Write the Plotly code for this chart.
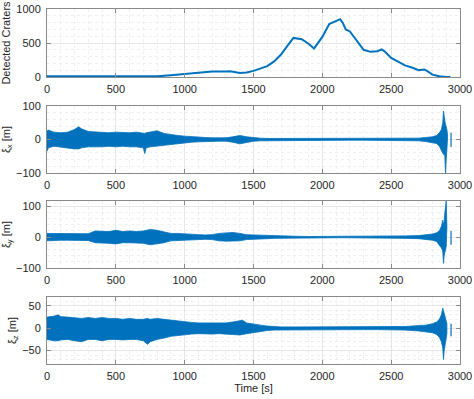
import plotly.graph_objects as go

# ---- Data ----
crater_t = [0, 100, 200, 300, 400, 500, 600, 700, 800, 900, 1000, 1100, 1200, 1300, 1330, 1400, 1450, 1500, 1550, 1600,
            1650, 1700, 1750, 1790, 1850, 1900, 1940, 2000, 2050, 2100, 2130, 2150, 2170, 2200, 2250, 2300, 2350, 2400,
            2430, 2450, 2500, 2550, 2600, 2650, 2700, 2740, 2760, 2800, 2850, 2900, 2930]
crater_n = [10, 10, 10, 8, 8, 8, 5, 8, 10, 25, 45, 65, 80, 80, 85, 60, 65, 90, 120, 160,
            230, 330, 470, 575, 555, 490, 420, 590, 780, 820, 850, 790, 700, 670, 540, 400, 370, 380,
            405, 380, 280, 220, 170, 140, 100, 110, 90, 35, 10, 0, 0]

ex_t = [0, 10, 50, 100, 150, 200, 230, 250, 300, 350, 400, 450, 500, 550, 600, 650, 700, 710, 720, 750, 800, 850, 900,
        950, 1000, 1050, 1100, 1150, 1200, 1250, 1300, 1350, 1400, 1450, 1500, 1550, 1600, 1700, 1800, 1900, 2000, 2100,
        2200, 2300, 2400, 2500, 2600, 2700, 2750, 2800, 2830, 2850, 2865, 2875, 2880, 2885, 2890, 2895, 2900, 2905, 2910]
ex_hi = [25, 28, 22, 20, 22, 30, 38, 32, 24, 22, 20, 20, 22, 20, 20, 22, 18, 18, 20, 22, 26, 18, 14,
         12, 10, 8, 7, 6, 5, 5, 5, 8, 12, 8, 5, 4, 3, 3, 2, 2, 2, 2,
         2, 2, 3, 3, 3, 4, 6, 8, 12, 20, 30, 50, 85, 60, 55, 45, 40, 30, 10]
ex_lo = [-35, -25, -20, -22, -25, -28, -28, -25, -22, -22, -22, -20, -22, -20, -22, -22, -25, -42, -25, -22, -20, -16, -14,
         -12, -10, -8, -7, -6, -5, -5, -5, -8, -13, -8, -5, -4, -3, -3, -2, -2, -2, -2,
         -2, -2, -3, -3, -3, -4, -6, -9, -12, -20, -30, -40, -45, -40, -50, -100, -60, -30, -10]
ex_bar_t = [2935, 2935]
ex_bar_v = [20, -22]

ey_t = [0, 50, 100, 150, 200, 250, 300, 350, 400, 450, 500, 550, 600, 650, 700, 750, 800, 850, 900, 950, 1000, 1050,
        1100, 1150, 1200, 1250, 1300, 1350, 1400, 1450, 1500, 1550, 1600, 1650, 1700, 1800, 1900, 2000, 2100, 2200,
        2300, 2400, 2500, 2600, 2700, 2750, 2800, 2830, 2850, 2865, 2875, 2880, 2885, 2890, 2895, 2900, 2905]
ey_hi = [12, 12, 10, 11, 10, 10, 11, 20, 18, 18, 22, 18, 20, 18, 20, 25, 22, 18, 12, 12, 10, 8,
         8, 7, 8, 12, 13, 15, 12, 8, 7, 6, 5, 4, 3, 3, 2, 2, 2, 2,
         2, 3, 3, 4, 5, 7, 10, 14, 20, 35, 55, 40, 50, 80, 117, 117, 30]
ey_lo = [-12, -10, -10, -10, -10, -10, -11, -18, -18, -20, -22, -18, -18, -18, -20, -25, -22, -18, -12, -12, -10, -8,
         -8, -7, -8, -12, -13, -13, -12, -8, -7, -6, -5, -4, -3, -3, -2, -2, -2, -2,
         -2, -3, -3, -4, -5, -7, -10, -14, -25, -35, -45, -85, -60, -50, -40, -30, -20]
ey_bar_t = [2935, 2935]
ey_bar_v = [20, -25]

ez_t = [0, 50, 80, 100, 150, 200, 250, 300, 350, 400, 450, 500, 550, 600, 650, 700, 730, 750, 800, 850, 900, 950,
        1000, 1050, 1100, 1150, 1200, 1250, 1300, 1350, 1400, 1420, 1450, 1500, 1550, 1600, 1650, 1700, 1800, 1900,
        2000, 2100, 2200, 2300, 2400, 2500, 2600, 2700, 2750, 2800, 2830, 2850, 2865, 2875, 2880, 2885, 2890, 2895,
        2900, 2905]
ez_hi = [25, 27, 30, 26, 25, 24, 22, 24, 22, 24, 22, 22, 20, 22, 20, 20, 22, 20, 22, 20, 18, 16,
         15, 13, 12, 12, 13, 12, 12, 14, 16, 18, 12, 9, 7, 5, 4, 3, 3, 3,
         3, 3, 3, 3, 3, 3, 4, 6, 7, 10, 14, 20, 30, 45, 40, 30, 25, 20,
         15, 10]
ez_lo = [-25, -28, -28, -26, -25, -28, -30, -25, -25, -28, -25, -25, -26, -25, -25, -28, -36, -30, -25, -22, -18, -17,
         -15, -13, -12, -12, -13, -12, -13, -14, -15, -14, -12, -9, -7, -5, -4, -3, -3, -3,
         -3, -3, -3, -3, -3, -3, -4, -6, -8, -10, -14, -20, -30, -45, -70, -50, -40, -30,
         -20, -12]
ez_bar_t = [2935, 2935]
ez_bar_v = [10, -18]

x_ticks = [0, 500, 1000, 1500, 2000, 2500, 3000]
x_ticklabels = ["0", "500", "1000", "1500", "2000", "2500", "3000"]

# ---- Figure ----
BLUE = "#0072BD"
TXT = "#262626"
GRID = "#e2e2e2"
MGRID = "#e6e6e6"
AXC = "#8a8a8a"

fig = go.Figure()

fig.add_trace(go.Scatter(x=crater_t, y=crater_n, mode="lines", line=dict(color=BLUE, width=2),
                         xaxis="x", yaxis="y", showlegend=False))

def band(t, hi, lo, bt, bv, ax, ay):
    fig.add_trace(go.Scatter(x=list(t) + list(t)[::-1], y=list(hi) + list(lo)[::-1], mode="lines",
                             fill="toself", fillcolor=BLUE, line=dict(color=BLUE, width=0.8),
                             xaxis=ax, yaxis=ay, showlegend=False))
    fig.add_trace(go.Scatter(x=bt, y=bv, mode="lines", line=dict(color=BLUE, width=1.2),
                             xaxis=ax, yaxis=ay, showlegend=False))

band(ex_t, ex_hi, ex_lo, ex_bar_t, ex_bar_v, "x2", "y2")
band(ey_t, ey_hi, ey_lo, ey_bar_t, ey_bar_v, "x3", "y3")
band(ez_t, ez_hi, ez_lo, ez_bar_t, ez_bar_v, "x4", "y4")

H = 355.0
def dom(top_px, bot_px):
    return [1 - (bot_px - 9) / H, 1 - (top_px - 9) / H]

def xax(anchor, title=None):
    d = dict(range=[0, 3000], tickvals=x_ticks, ticktext=x_ticklabels, anchor=anchor, automargin=False,
             showline=True, linecolor=AXC, linewidth=1, mirror="ticks",
             ticks="inside", ticklen=4, tickcolor=AXC,
             showgrid=True, gridcolor=GRID, gridwidth=0.8,
             minor=dict(dtick=100, showgrid=True, gridcolor=MGRID, griddash="dot", gridwidth=0.6, ticks=""),
             zeroline=False, tickfont=dict(size=11, color=TXT), ticklabelstandoff=2)
    if title:
        d["title"] = dict(text=title, font=dict(size=11, color=TXT), standoff=2)
    return d

def yax(anchor, domain, rng, ticks, minor_dt, title):
    return dict(domain=domain, range=rng, tickvals=ticks, anchor=anchor, automargin=False,
                showline=True, linecolor=AXC, linewidth=1, mirror="ticks",
                ticks="inside", ticklen=4, tickcolor=AXC,
                showgrid=True, gridcolor=GRID, gridwidth=0.8,
                minor=dict(dtick=minor_dt, showgrid=True, gridcolor=MGRID, griddash="dot", gridwidth=0.6, ticks=""),
                zeroline=False, tickfont=dict(size=11, color=TXT), ticklabelstandoff=3,
                title=dict(text=title, font=dict(size=11, color=TXT), standoff=3))

fig.update_layout(
    width=474, height=399,
    margin=dict(l=47, r=14, t=9, b=35, autoexpand=False),
    paper_bgcolor="white", plot_bgcolor="white",
    font=dict(family="Liberation Sans, Arial, sans-serif", size=11, color=TXT),
    hovermode=False,
    xaxis=xax("y"),
    xaxis2=xax("y2"),
    xaxis3=xax("y3"),
    xaxis4=xax("y4", "Time [s]"),
    yaxis=yax("x", dom(9, 77), [0, 1000], [0, 500, 1000], 100, "Detected Craters"),
    yaxis2=yax("x2", dom(106, 173), [-100, 100], [-100, 0, 100], 20, "ξ<sub>x</sub> [m]"),
    yaxis3=yax("x3", dom(201, 268), [-100, 117], [-100, 0, 100], 20, "ξ<sub>y</sub> [m]"),
    yaxis4=yax("x4", dom(297, 364), [-80, 70], [-50, 0, 50], 10, "ξ<sub>z</sub> [m]"),
)

fig.write_html("out.html", config={"displayModeBar": False, "staticPlot": True},
               post_script="document.body.style.margin='0';document.body.style.overflow='hidden';")
